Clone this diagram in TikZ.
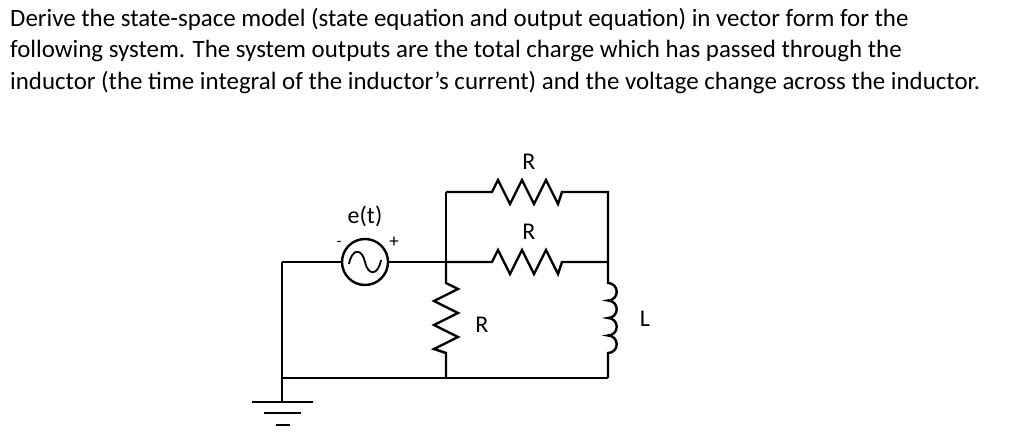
\documentclass[tikz,border=0pt]{standalone}
\usepackage{fontspec}
\setmainfont{Carlito}
\begin{document}
\begin{tikzpicture}[x=1pt,y=-1pt,line width=2.4pt,
  txt/.style={anchor=west,inner sep=0pt,font=\fontsize{24.9}{28}\selectfont},
  lbl/.style={inner sep=0pt,font=\fontsize{24}{28}\selectfont}]
\useasboundingbox (0,0) rectangle (1024,443);
\node[txt] (l1) at (9,19) {Derive the state-space model (state equation and output equation) in vector form for the};
\node[txt] (l2) at (9,51) {following system. The system outputs are the total charge which has passed through the};
\node[txt] (l3) at (9,83) {inductor (the time integral of the inductor’s current) and the voltage change across the inductor.};
\coordinate (gl) at (282,262);
\coordinate (gb) at (282,378);
\coordinate (gnd) at (282,402);
\coordinate (j) at (446,262);
\coordinate (jt) at (446,192);
\coordinate (jb) at (446,378);
\coordinate (rt) at (608,192);
\coordinate (rm) at (608,262);
\coordinate (rb) at (608,378);
\node[circle,draw,minimum size=46pt,inner sep=0pt] (src) at (365,262) {};
\draw[line width=1.8pt] (349,264) .. controls (352,248) and (362,248) .. (365,262) .. controls (368,276) and (378,276) .. (381,260);
\draw (gl) -- (src) (src) -- (j);
\draw (gnd) -- (gl);
\draw (gb) -- (rb);
\draw (jt) -- (j);
\draw (jt) -- (492,192) -- ++(6,-12) -- ++(12,24) -- ++(12,-24) -- ++(12,24) -- ++(12,-24) -- ++(12,24) -- (562,192) -- (rt) -- (rm);
\draw (j) -- (492,262) -- ++(6,-12) -- ++(12,24) -- ++(12,-24) -- ++(12,24) -- ++(12,-24) -- ++(12,24) -- (562,262) -- (rm);
\draw (j) -- (446,283) -- ++(12,6) -- ++(-24,12) -- ++(24,12) -- ++(-24,12) -- ++(24,12) -- ++(-24,12) -- (446,353) -- (jb);
\draw (rm) -- (608,283) arc[start angle=90,end angle=-90,radius=8.75pt]
  arc[start angle=90,end angle=-90,radius=8.75pt]
  arc[start angle=90,end angle=-90,radius=8.75pt]
  arc[start angle=90,end angle=-90,radius=8.75pt] -- (rb);
\draw (252,402) -- (313,402);
\draw (264,413) -- (301,413);
\draw (276,425) -- (290,425);
\node[lbl] (lr1) at (529,162) {R};
\node[lbl] (lr2) at (529,232) {R};
\node[lbl] (lr3) at (482,325) {R};
\node[lbl] (ll) at (645,319) {L};
\node[lbl] (le) at (365,216) {e(t)};
\node[lbl,font=\fontsize{16}{18}\selectfont] (lm) at (339,244) {-};
\node[lbl,font=\fontsize{19}{20}\selectfont] (lp) at (394,242) {+};
\end{tikzpicture}
\end{document}
